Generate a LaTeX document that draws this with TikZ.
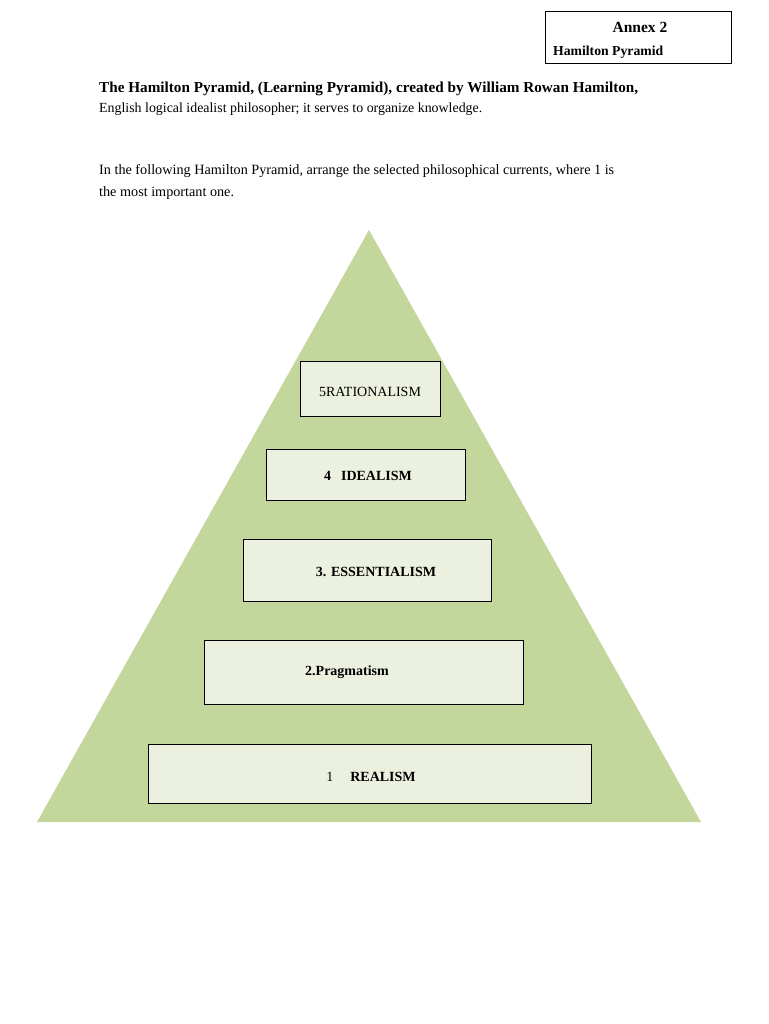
\documentclass[tikz,border=0pt]{standalone}
\usepackage{fontspec}
\setmainfont{Liberation Serif}
\definecolor{pyrgreen}{HTML}{C3D69B}
\definecolor{tierfill}{HTML}{EBF1DE}

\begin{document}
\begin{tikzpicture}[x=1pt,y=-1pt,
  every node/.style={font=\fontsize{14}{16}\selectfont, inner sep=0pt},
  tier/.style={draw=black, fill=tierfill, line width=0.9pt, anchor=north west},
  tiertext/.style={font=\fontsize{14}{16}\selectfont\bfseries},
  head/.style={anchor=west}]
\useasboundingbox[fill=white] (0,0) rectangle (768,1024);
% annex box
\node[draw=black, line width=0.9pt, anchor=north west, minimum width=186pt, minimum height=52pt] (annex) at (545,11) {};
\node[font=\fontsize{15.5}{17}\selectfont\bfseries] (annexno) at (640,27) {Annex 2};
\node[anchor=west, font=\fontsize{13.7}{15}\selectfont\bfseries] (annexname) at (553,52) {Hamilton Pyramid};
% heading text
\node[head, font=\fontsize{15.2}{17}\selectfont\bfseries] (title) at (99,89) {The Hamilton Pyramid, (Learning Pyramid), created by William Rowan Hamilton,};
\node[head, font=\fontsize{13.9}{16}\selectfont] (subtitle) at (99,109) {English logical idealist philosopher; it serves to organize knowledge.};
\node[head, font=\fontsize{14.2}{16}\selectfont] (task) at (99,171) {In the following Hamilton Pyramid, arrange the selected philosophical currents, where 1 is};
\node[head, font=\fontsize{14.2}{16}\selectfont] (task2) at (99,193) {the most important one.};
% pyramid
\fill[pyrgreen] (369,230) -- (701,822) -- (37,822) -- cycle;
% tiers, top to bottom
\node[tier, minimum width=140pt, minimum height=55pt] (t5) at (300,361) {};
\node (l5) at (370,392) {5RATIONALISM};
\node[tier, minimum width=199pt, minimum height=51pt] (t4) at (266,449) {};
\node[tiertext] (l4) at (368,476) {4\hspace{10pt}IDEALISM};
\node[tier, minimum width=248pt, minimum height=62pt] (t3) at (243,539) {};
\node[tiertext] (l3) at (376,572) {3. ESSENTIALISM};
\node[tier, minimum width=319pt, minimum height=64pt] (t2) at (204,640) {};
\node[tiertext] (l2) at (347,672) {2.Pragmatism};
\node[tier, minimum width=443pt, minimum height=59pt] (t1) at (148,744) {};
\node[tiertext] (l1) at (371,777) {\mdseries 1\hspace{17pt}\bfseries REALISM};
\end{tikzpicture}
\end{document}
